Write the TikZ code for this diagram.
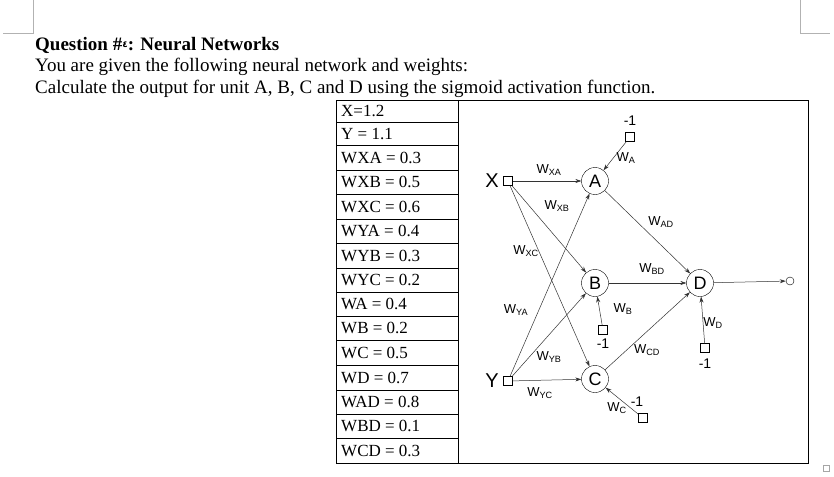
\documentclass[tikz,border=0pt]{standalone}
\usepackage{fontspec}
\setmainfont{Liberation Serif}
\newfontfamily\lsans{Liberation Sans}
\newfontfamily\dvs{DejaVu Sans}
\usetikzlibrary{arrows.meta}
\begin{document}
\begin{tikzpicture}[x=1pt,y=-1pt,
  neuron/.style={draw,circle,minimum size=27pt,inner sep=0,font=\lsans\fontsize{18}{18}\selectfont},
  sq/.style={draw,minimum size=9pt,inner sep=0},
  conn/.style={-{Stealth[length=6pt,width=4pt]},line width=0.5pt,black!80},
  wl/.style={font=\lsans\fontsize{13}{13}\selectfont,inner sep=0},
  txt/.style={anchor=west,inner sep=0,font=\fontsize{19}{19}\selectfont},
  cell/.style={anchor=west,inner sep=0,font=\fontsize{17}{17}\selectfont}]
\useasboundingbox (0,0) rectangle (834,476);
\draw[gray!60] (33,0)--(33,33)--(3,33);
\draw[gray!60] (800,0)--(800,33)--(830,33);
\draw[gray!70] (823,465) rectangle (829,471);
\node[txt,font=\bfseries\fontsize{19}{19}\selectfont] (t1) at (35,45) {Question \#{\dvs\fontsize{9}{9}\selectfont\raisebox{3pt}{٤}}: Neural Networks};
\node[txt] (t2) at (35,67) {You are given the following neural network and weights:};
\node[txt] (t3) at (35,89) {Calculate the output for unit A, B, C and D using the sigmoid activation function.};
% table
\draw (336,100) rectangle (808,463);
\draw (458,100)--(458,463);
\foreach \y in {122,145,170,194,219,243,268,292,316,340,365,390,414,438}{\draw (336,\y)--(458,\y);}
\foreach \t/\y in {X=1.2/111,Y = 1.1/134,WXA = 0.3/158,WXB = 0.5/182,WXC = 0.6/207,WYA = 0.4/231,WYB = 0.3/256,WYC = 0.2/280,WA = 0.4/304,WB = 0.2/328,WC = 0.5/353,WD = 0.7/378,WAD = 0.8/402,WBD = 0.1/426,WCD = 0.3/451}
  {\node[cell] at (341,\y) {\t};}
% network
\node[sq] (x) at (508,181) {};
\node[sq] (y) at (508,381) {};
\node[font=\lsans\fontsize{20}{20}\selectfont] at (492,181) {X};
\node[font=\lsans\fontsize{20}{20}\selectfont] at (492,381) {Y};
\node[neuron] (A) at (595,181) {A};
\node[neuron] (B) at (595,283) {B};
\node[neuron] (C) at (595,379) {C};
\node[neuron] (D) at (700,283) {D};
\node[draw,circle,minimum size=8pt,inner sep=0] (o) at (790,281) {};
\node[sq] (ba) at (630,137) {};
\node[sq] (bb) at (603,330) {};
\node[sq] (bc) at (643,418) {};
\node[sq] (bd) at (705,348) {};
\node[wl,font=\lsans\fontsize{14}{14}\selectfont] at (630,121) {-1};
\node[wl,font=\lsans\fontsize{14}{14}\selectfont] at (603,344) {-1};
\node[wl,font=\lsans\fontsize{14}{14}\selectfont] at (637,402) {-1};
\node[wl,font=\lsans\fontsize{14}{14}\selectfont] at (705,364) {-1};
\draw[conn] (x)--(A); \draw[conn] (x)--(B); \draw[conn] (x)--(C);
\draw[conn] (y)--(A); \draw[conn] (y)--(B); \draw[conn] (y)--(C);
\draw[conn] (A)--(D); \draw[conn] (B)--(D); \draw[conn] (C)--(D);
\draw[conn] (D)--(o);
\draw[conn] (ba)--(A); \draw[conn] (bb)--(B); \draw[conn] (bc)--(C); \draw[conn] (bd)--(D);
\node[wl] at (549,170) {W\textsubscript{XA}};
\node[wl] at (626,158) {W\textsubscript{A}};
\node[wl] at (557,206) {W\textsubscript{XB}};
\node[wl] at (661,222) {W\textsubscript{AD}};
\node[wl] at (526,251) {W\textsubscript{XC}};
\node[wl] at (652,269) {W\textsubscript{BD}};
\node[wl] at (516,310) {W\textsubscript{YA}};
\node[wl] at (623,309) {W\textsubscript{B}};
\node[wl] at (647,350) {W\textsubscript{CD}};
\node[wl] at (549,357) {W\textsubscript{YB}};
\node[wl] at (713,323) {W\textsubscript{D}};
\node[wl] at (540,393) {W\textsubscript{YC}};
\node[wl] at (617,408) {W\textsubscript{C}};
\end{tikzpicture}
\end{document}
